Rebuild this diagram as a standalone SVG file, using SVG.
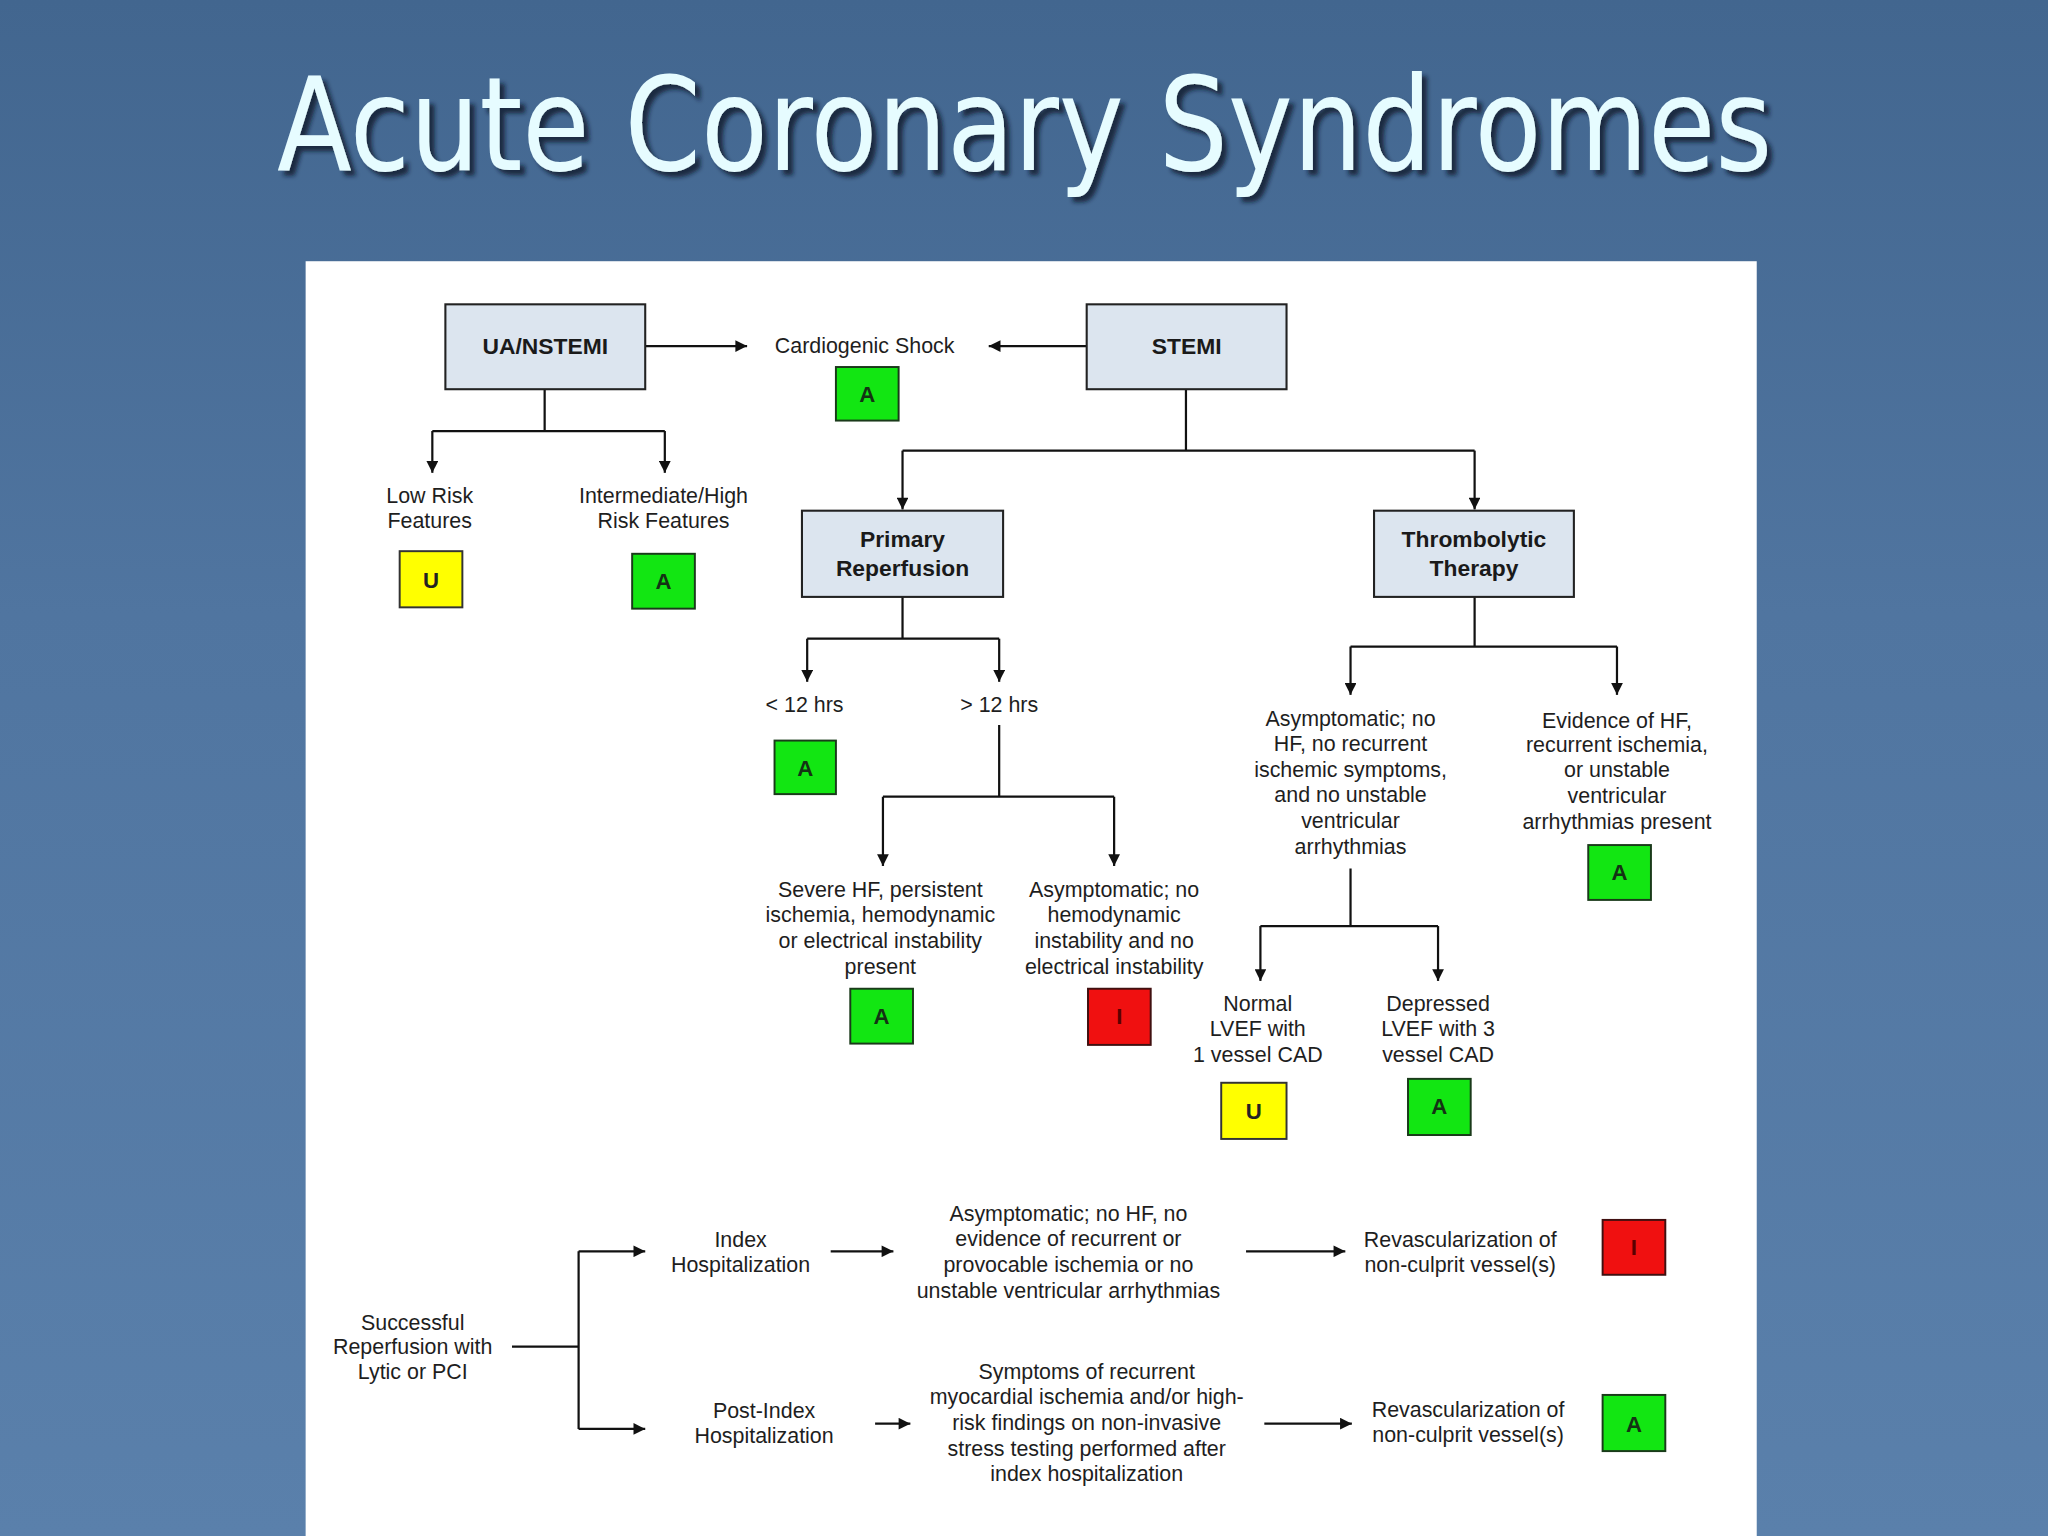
<svg xmlns="http://www.w3.org/2000/svg" width="2048" height="1536" viewBox="0 0 2048 1536">
<defs>
<linearGradient id="bg" x1="0" y1="0" x2="0" y2="1">
<stop offset="0" stop-color="#42668f"/>
<stop offset="0.4" stop-color="#5075a0"/>
<stop offset="1" stop-color="#5a80ab"/>
</linearGradient>
<filter id="shadow" x="-5%" y="-20%" width="110%" height="150%">
<feDropShadow dx="4" dy="4" stdDeviation="1.5" flood-color="#0e1a2c" flood-opacity="0.8"/>
</filter>
<marker id="ah" viewBox="0 0 10 10" refX="10" refY="5" markerWidth="10" markerHeight="9" markerUnits="userSpaceOnUse" orient="auto">
<path d="M0,0 L10,5 L0,10 z" fill="#111"/>
</marker>
<style>
.t{font-family:"Liberation Sans",Arial,sans-serif;font-size:16.4px;fill:#1e1e1e;text-anchor:middle}
.b{font-family:"Liberation Sans",Arial,sans-serif;font-size:17.5px;font-weight:bold;fill:#1a1a1a;text-anchor:middle}
.box{fill:#dce5ef;stroke:#222;stroke-width:1.6}
.g{fill:#12e612;stroke:#1a3a1a;stroke-width:1.5}
.y{fill:#ffff00;stroke:#333;stroke-width:1.5}
.r{fill:#f01010;stroke:#401010;stroke-width:1.5}
.bl{font-family:"Liberation Sans",Arial,sans-serif;font-size:17px;font-weight:bold;text-anchor:middle}
.c{fill:none;stroke:#111;stroke-width:1.7}
.ca{fill:none;stroke:#111;stroke-width:1.7;marker-end:url(#ah)}
</style>
</defs>
<rect x="0" y="0" width="2048" height="1536" fill="url(#bg)"/>
<g transform="scale(1.306122)">
<g id="title">
<text x="212" y="130" font-family="DejaVu Sans, sans-serif" font-size="99" fill="#e6fcff" textLength="1145" lengthAdjust="spacingAndGlyphs" filter="url(#shadow)">Acute Coronary Syndromes</text>
</g>
<rect id="panel" x="234" y="200" width="1111" height="976" fill="#ffffff"/>

<g id="connectors">
<path class="ca" d="M494,265 H572"/>
<path class="ca" d="M832,265 H757"/>
<path class="c" d="M417,298 V330 M331,330 H509"/>
<path class="ca" d="M331,330 V362"/>
<path class="ca" d="M509,330 V362"/>
<path class="c" d="M908,298 V345 M691,345 H1129"/>
<path class="ca" d="M691,345 V390"/>
<path class="ca" d="M1129,345 V390"/>
<path class="c" d="M691,457 V489 M618,489 H765"/>
<path class="ca" d="M618,489 V522"/>
<path class="ca" d="M765,489 V522"/>
<path class="c" d="M765,555 V610 M676,610 H853"/>
<path class="ca" d="M676,610 V663"/>
<path class="ca" d="M853,610 V663"/>
<path class="c" d="M1129,457 V495 M1034,495 H1238"/>
<path class="ca" d="M1034,495 V532"/>
<path class="ca" d="M1238,495 V532"/>
<path class="c" d="M1034,665 V709 M965,709 H1101"/>
<path class="ca" d="M965,709 V751"/>
<path class="ca" d="M1101,709 V751"/>
<path class="c" d="M392,1031 H443 M443,958 V1094"/>
<path class="ca" d="M443,958 H494"/>
<path class="ca" d="M443,1094 H494"/>
<path class="ca" d="M636,958 H684"/>
<path class="ca" d="M670,1090 H697"/>
<path class="ca" d="M954,958 H1030"/>
<path class="ca" d="M968,1090 H1035"/>
</g>

<g id="ua-nstemi"><rect class="box" x="341" y="233" width="153" height="65"/><text class="b" x="417.5" y="271">UA/NSTEMI</text></g>
<g id="stemi"><rect class="box" x="832" y="233" width="153" height="65"/><text class="b" x="908.5" y="271">STEMI</text></g>
<g id="primary-reperfusion"><rect class="box" x="614" y="391" width="154" height="66"/><text class="b" x="691" y="419">Primary</text><text class="b" x="691" y="441">Reperfusion</text></g>
<g id="thrombolytic"><rect class="box" x="1052" y="391" width="153" height="66"/><text class="b" x="1128.5" y="419">Thrombolytic</text><text class="b" x="1128.5" y="441">Therapy</text></g>

<g id="cardiogenic-shock"><text class="t" x="662" y="270">Cardiogenic Shock</text>
<rect class="g" x="640" y="281" width="48" height="41"/><text class="bl" x="664" y="308" fill="#143214">A</text></g>

<g id="low-risk"><text class="t" x="329" y="385">Low Risk</text><text class="t" x="329" y="404">Features</text>
<rect class="y" x="306" y="422" width="48" height="43"/><text class="bl" x="330" y="450" fill="#222">U</text></g>

<g id="high-risk"><text class="t" x="508" y="385">Intermediate/High</text><text class="t" x="508" y="404">Risk Features</text>
<rect class="g" x="484" y="424" width="48" height="42"/><text class="bl" x="508" y="451" fill="#143214">A</text></g>

<g id="lt12"><text class="t" x="616" y="545">&lt; 12 hrs</text>
<rect class="g" x="593" y="567" width="47" height="41"/><text class="bl" x="616.5" y="594" fill="#143214">A</text></g>

<g id="gt12"><text class="t" x="765" y="545">&gt; 12 hrs</text></g>

<g id="severe-hf"><text class="t" x="674" y="687">Severe HF, persistent</text><text class="t" x="674" y="706">ischemia, hemodynamic</text><text class="t" x="674" y="726">or electrical instability</text><text class="t" x="674" y="746">present</text>
<rect class="g" x="651" y="757" width="48" height="42"/><text class="bl" x="675" y="784" fill="#143214">A</text></g>

<g id="asym-hemo"><text class="t" x="853" y="687">Asymptomatic; no</text><text class="t" x="853" y="706">hemodynamic</text><text class="t" x="853" y="726">instability and no</text><text class="t" x="853" y="746">electrical instability</text>
<rect class="r" x="833" y="757" width="48" height="43"/><text class="bl" x="857" y="784" fill="#5a0000">I</text></g>

<g id="asym-thromb"><text class="t" x="1034" y="556">Asymptomatic; no</text><text class="t" x="1034" y="575">HF, no recurrent</text><text class="t" x="1034" y="595">ischemic symptoms,</text><text class="t" x="1034" y="614">and no unstable</text><text class="t" x="1034" y="634">ventricular</text><text class="t" x="1034" y="654">arrhythmias</text></g>

<g id="evidence-hf"><text class="t" x="1238" y="557">Evidence of HF,</text><text class="t" x="1238" y="576">recurrent ischemia,</text><text class="t" x="1238" y="595">or unstable</text><text class="t" x="1238" y="615">ventricular</text><text class="t" x="1238" y="635">arrhythmias present</text>
<rect class="g" x="1216" y="647" width="48" height="42"/><text class="bl" x="1240" y="674" fill="#143214">A</text></g>

<g id="normal-lvef"><text class="t" x="963" y="774">Normal</text><text class="t" x="963" y="793">LVEF  with</text><text class="t" x="963" y="813">1 vessel CAD</text>
<rect class="y" x="935" y="829" width="50" height="43"/><text class="bl" x="960" y="857" fill="#222">U</text></g>

<g id="depressed-lvef"><text class="t" x="1101" y="774">Depressed</text><text class="t" x="1101" y="793">LVEF  with 3</text><text class="t" x="1101" y="813">vessel CAD</text>
<rect class="g" x="1078" y="826" width="48" height="43"/><text class="bl" x="1102" y="853" fill="#143214">A</text></g>

<g id="successful"><text class="t" x="316" y="1018">Successful</text><text class="t" x="316" y="1037">Reperfusion with</text><text class="t" x="316" y="1056">Lytic or PCI</text></g>

<g id="index-hosp"><text class="t" x="567" y="955">Index</text><text class="t" x="567" y="974">Hospitalization</text></g>

<g id="asym-index"><text class="t" x="818" y="935">Asymptomatic; no HF, no</text><text class="t" x="818" y="954">evidence of recurrent or</text><text class="t" x="818" y="974">provocable ischemia or no</text><text class="t" x="818" y="994">unstable ventricular arrhythmias</text></g>

<g id="revasc-1"><text class="t" x="1118" y="955">Revascularization of</text><text class="t" x="1118" y="974">non-culprit vessel(s)</text>
<rect class="r" x="1227" y="934" width="48" height="42"/><text class="bl" x="1251" y="961" fill="#5a0000">I</text></g>

<g id="post-index"><text class="t" x="585" y="1086">Post-Index</text><text class="t" x="585" y="1105">Hospitalization</text></g>

<g id="symptoms"><text class="t" x="832" y="1056">Symptoms of recurrent</text><text class="t" x="832" y="1075">myocardial ischemia and/or high-</text><text class="t" x="832" y="1095">risk findings on non-invasive</text><text class="t" x="832" y="1115">stress testing performed after</text><text class="t" x="832" y="1134">index hospitalization</text></g>

<g id="revasc-2"><text class="t" x="1124" y="1085">Revascularization of</text><text class="t" x="1124" y="1104">non-culprit vessel(s)</text>
<rect class="g" x="1227" y="1068" width="48" height="43"/><text class="bl" x="1251" y="1096" fill="#143214">A</text></g>
</g>
</svg>
